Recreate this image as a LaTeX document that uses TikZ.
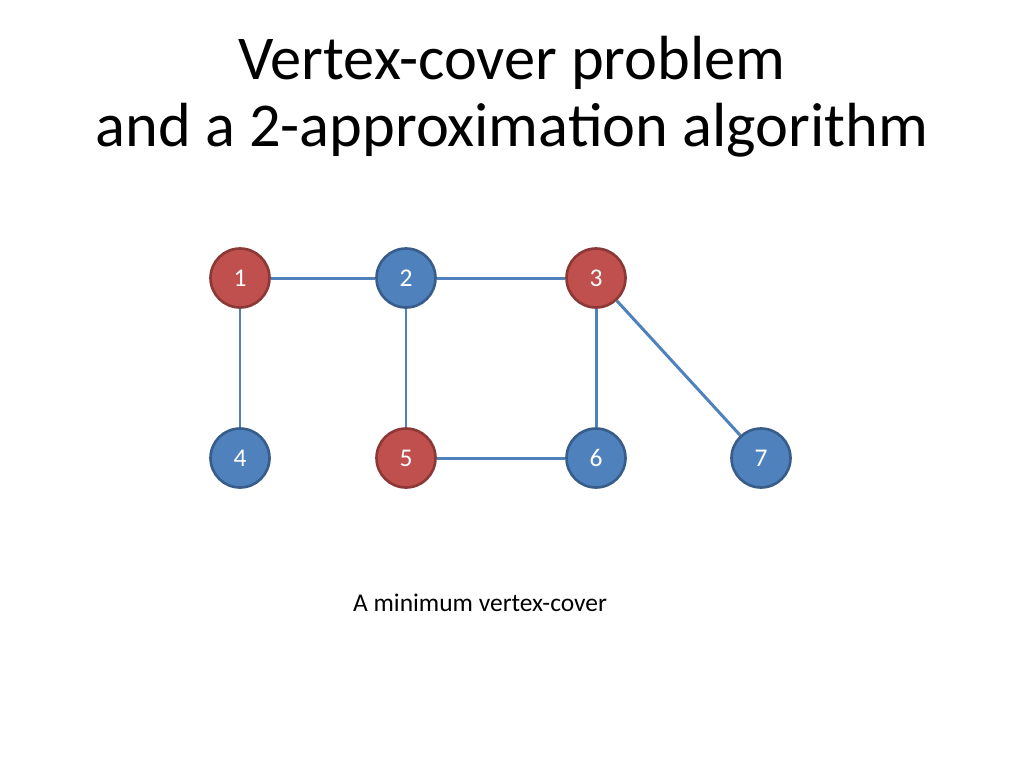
\documentclass[tikz,border=0pt]{standalone}
\usepackage{fontspec}
\setmainfont{Carlito}
\definecolor{redf}{RGB}{192,80,77}
\definecolor{redd}{RGB}{140,56,54}
\definecolor{bluef}{RGB}{79,129,189}
\definecolor{blued}{RGB}{56,93,138}
\begin{document}
\begin{tikzpicture}[x=0.02cm,y=-0.02cm,
  vtx/.style={circle,minimum size=1.18cm,inner sep=0pt,line width=1.5pt,text=white,font=\fontsize{14.5}{16}\selectfont},
  rv/.style={vtx,fill=redf,draw=redd},
  bv/.style={vtx,fill=bluef,draw=blued},
  edge/.style={draw=bluef,line width=1.7pt}]
\useasboundingbox (0,0) rectangle (1024,768);
\node[font=\fontsize{35.5}{38}\selectfont,align=center] (title) at (512,97) {Vertex-cover problem\\and a 2-approximation algorithm};
\node[rv] (n1) at (240,278) {1};
\node[bv] (n2) at (406,278) {2};
\node[rv] (n3) at (596,278) {3};
\node[bv] (n4) at (240,458) {4};
\node[rv] (n5) at (406,458) {5};
\node[bv] (n6) at (596,458) {6};
\node[bv] (n7) at (761,458) {7};
\begin{scope}[on background layer/.style={}]
\end{scope}
\draw[edge] (n1)--(n2);
\draw[edge] (n2)--(n3);
\draw[edge] (n1)--(n4);
\draw[edge] (n2)--(n5);
\draw[edge] (n3)--(n6);
\draw[edge] (n3)--(n7);
\draw[edge] (n5)--(n6);
\node[font=\fontsize{14.5}{16}\selectfont] (cap) at (480,603) {A minimum vertex-cover};
\end{tikzpicture}
\end{document}
